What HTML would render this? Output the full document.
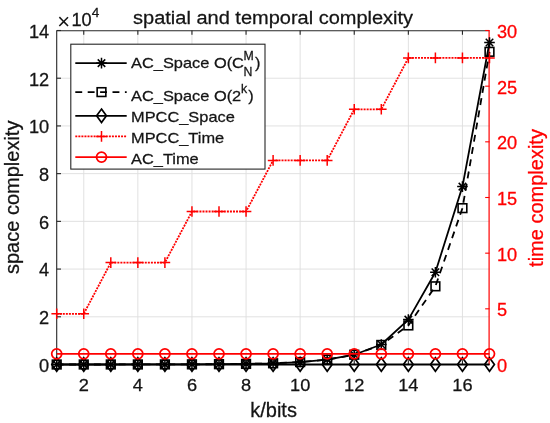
<!DOCTYPE html>
<html><head><meta charset="utf-8"><title>spatial and temporal complexity</title>
<style>html,body{margin:0;padding:0;background:#fff;width:550px;height:423px;overflow:hidden}svg{display:block}</style>
</head><body>
<svg width="550" height="423" viewBox="0 0 550 423" font-family='"Liberation Sans", Arial, Helvetica, sans-serif'>
<rect width="550" height="423" fill="#fff"/>
<line x1="83.75" y1="30.5" x2="83.75" y2="364.5" stroke="#dedede" stroke-width="0.9"/>
<line x1="137.85" y1="30.5" x2="137.85" y2="364.5" stroke="#dedede" stroke-width="0.9"/>
<line x1="191.95" y1="30.5" x2="191.95" y2="364.5" stroke="#dedede" stroke-width="0.9"/>
<line x1="246.05" y1="30.5" x2="246.05" y2="364.5" stroke="#dedede" stroke-width="0.9"/>
<line x1="300.15" y1="30.5" x2="300.15" y2="364.5" stroke="#dedede" stroke-width="0.9"/>
<line x1="354.25" y1="30.5" x2="354.25" y2="364.5" stroke="#dedede" stroke-width="0.9"/>
<line x1="408.35" y1="30.5" x2="408.35" y2="364.5" stroke="#dedede" stroke-width="0.9"/>
<line x1="462.45" y1="30.5" x2="462.45" y2="364.5" stroke="#dedede" stroke-width="0.9"/>
<line x1="56.7" y1="316.79" x2="489.5" y2="316.79" stroke="#dedede" stroke-width="0.9"/>
<line x1="56.7" y1="269.07" x2="489.5" y2="269.07" stroke="#dedede" stroke-width="0.9"/>
<line x1="56.7" y1="221.36" x2="489.5" y2="221.36" stroke="#dedede" stroke-width="0.9"/>
<line x1="56.7" y1="173.64" x2="489.5" y2="173.64" stroke="#dedede" stroke-width="0.9"/>
<line x1="56.7" y1="125.93" x2="489.5" y2="125.93" stroke="#dedede" stroke-width="0.9"/>
<line x1="56.7" y1="78.21" x2="489.5" y2="78.21" stroke="#dedede" stroke-width="0.9"/>
<line x1="56.7" y1="30.7" x2="489.5" y2="30.7" stroke="#262626" stroke-width="1.1"/>
<line x1="56.7" y1="364.5" x2="489.5" y2="364.5" stroke="#262626" stroke-width="1.1"/>
<line x1="56.7" y1="30.5" x2="56.7" y2="364.5" stroke="#262626" stroke-width="1.1"/>
<line x1="489.1" y1="30.5" x2="489.1" y2="364.5" stroke="#ff0000" stroke-width="1.2"/>
<line x1="83.75" y1="364.5" x2="83.75" y2="360.17" stroke="#262626" stroke-width="1.1"/>
<line x1="83.75" y1="30.5" x2="83.75" y2="34.83" stroke="#262626" stroke-width="1.1"/>
<line x1="137.85" y1="364.5" x2="137.85" y2="360.17" stroke="#262626" stroke-width="1.1"/>
<line x1="137.85" y1="30.5" x2="137.85" y2="34.83" stroke="#262626" stroke-width="1.1"/>
<line x1="191.95" y1="364.5" x2="191.95" y2="360.17" stroke="#262626" stroke-width="1.1"/>
<line x1="191.95" y1="30.5" x2="191.95" y2="34.83" stroke="#262626" stroke-width="1.1"/>
<line x1="246.05" y1="364.5" x2="246.05" y2="360.17" stroke="#262626" stroke-width="1.1"/>
<line x1="246.05" y1="30.5" x2="246.05" y2="34.83" stroke="#262626" stroke-width="1.1"/>
<line x1="300.15" y1="364.5" x2="300.15" y2="360.17" stroke="#262626" stroke-width="1.1"/>
<line x1="300.15" y1="30.5" x2="300.15" y2="34.83" stroke="#262626" stroke-width="1.1"/>
<line x1="354.25" y1="364.5" x2="354.25" y2="360.17" stroke="#262626" stroke-width="1.1"/>
<line x1="354.25" y1="30.5" x2="354.25" y2="34.83" stroke="#262626" stroke-width="1.1"/>
<line x1="408.35" y1="364.5" x2="408.35" y2="360.17" stroke="#262626" stroke-width="1.1"/>
<line x1="408.35" y1="30.5" x2="408.35" y2="34.83" stroke="#262626" stroke-width="1.1"/>
<line x1="462.45" y1="364.5" x2="462.45" y2="360.17" stroke="#262626" stroke-width="1.1"/>
<line x1="462.45" y1="30.5" x2="462.45" y2="34.83" stroke="#262626" stroke-width="1.1"/>
<line x1="56.7" y1="364.50" x2="61.03" y2="364.50" stroke="#262626" stroke-width="1.1"/>
<line x1="56.7" y1="316.79" x2="61.03" y2="316.79" stroke="#262626" stroke-width="1.1"/>
<line x1="56.7" y1="269.07" x2="61.03" y2="269.07" stroke="#262626" stroke-width="1.1"/>
<line x1="56.7" y1="221.36" x2="61.03" y2="221.36" stroke="#262626" stroke-width="1.1"/>
<line x1="56.7" y1="173.64" x2="61.03" y2="173.64" stroke="#262626" stroke-width="1.1"/>
<line x1="56.7" y1="125.93" x2="61.03" y2="125.93" stroke="#262626" stroke-width="1.1"/>
<line x1="56.7" y1="78.21" x2="61.03" y2="78.21" stroke="#262626" stroke-width="1.1"/>
<line x1="56.7" y1="30.50" x2="61.03" y2="30.50" stroke="#262626" stroke-width="1.1"/>
<line x1="489.5" y1="364.50" x2="485.17" y2="364.50" stroke="#ff0000" stroke-width="1.1"/>
<line x1="489.5" y1="308.83" x2="485.17" y2="308.83" stroke="#ff0000" stroke-width="1.1"/>
<line x1="489.5" y1="253.17" x2="485.17" y2="253.17" stroke="#ff0000" stroke-width="1.1"/>
<line x1="489.5" y1="197.50" x2="485.17" y2="197.50" stroke="#ff0000" stroke-width="1.1"/>
<line x1="489.5" y1="141.83" x2="485.17" y2="141.83" stroke="#ff0000" stroke-width="1.1"/>
<line x1="489.5" y1="86.17" x2="485.17" y2="86.17" stroke="#ff0000" stroke-width="1.1"/>
<line x1="489.5" y1="30.50" x2="485.17" y2="30.50" stroke="#ff0000" stroke-width="1.1"/>
<polyline points="56.70,364.50 83.75,364.49 110.80,364.48 137.85,364.46 164.90,364.42 191.95,364.35 219.00,364.19 246.05,363.89 273.10,363.28 300.15,362.06 327.20,359.61 354.25,354.73 381.30,344.50 408.35,319.60 435.40,272.20 462.45,186.60 489.50,42.50" fill="none" stroke="#000" stroke-width="1.8" stroke-linejoin="round"/>
<path d="M51.40,364.50H62.00M56.70,359.20V369.80M52.95,360.75L60.45,368.24M52.95,368.24L60.45,360.75" stroke="#000" stroke-width="1.5" fill="none"/>
<path d="M78.45,364.49H89.05M83.75,359.19V369.79M80.00,360.74L87.50,368.24M80.00,368.24L87.50,360.74" stroke="#000" stroke-width="1.5" fill="none"/>
<path d="M105.50,364.48H116.10M110.80,359.18V369.78M107.05,360.73L114.55,368.23M107.05,368.23L114.55,360.73" stroke="#000" stroke-width="1.5" fill="none"/>
<path d="M132.55,364.46H143.15M137.85,359.16V369.76M134.10,360.71L141.60,368.21M134.10,368.21L141.60,360.71" stroke="#000" stroke-width="1.5" fill="none"/>
<path d="M159.60,364.42H170.20M164.90,359.12V369.72M161.15,360.68L168.65,368.17M161.15,368.17L168.65,360.68" stroke="#000" stroke-width="1.5" fill="none"/>
<path d="M186.65,364.35H197.25M191.95,359.05V369.65M188.20,360.60L195.70,368.09M188.20,368.09L195.70,360.60" stroke="#000" stroke-width="1.5" fill="none"/>
<path d="M213.70,364.19H224.30M219.00,358.89V369.49M215.25,360.45L222.75,367.94M215.25,367.94L222.75,360.45" stroke="#000" stroke-width="1.5" fill="none"/>
<path d="M240.75,363.89H251.35M246.05,358.59V369.19M242.30,360.14L249.80,367.64M242.30,367.64L249.80,360.14" stroke="#000" stroke-width="1.5" fill="none"/>
<path d="M267.80,363.28H278.40M273.10,357.98V368.58M269.35,359.53L276.85,367.03M269.35,367.03L276.85,359.53" stroke="#000" stroke-width="1.5" fill="none"/>
<path d="M294.85,362.06H305.45M300.15,356.76V367.36M296.40,358.31L303.90,365.80M296.40,365.80L303.90,358.31" stroke="#000" stroke-width="1.5" fill="none"/>
<path d="M321.90,359.61H332.50M327.20,354.31V364.91M323.45,355.87L330.95,363.36M323.45,363.36L330.95,355.87" stroke="#000" stroke-width="1.5" fill="none"/>
<path d="M348.95,354.73H359.55M354.25,349.43V360.03M350.50,350.98L358.00,358.48M350.50,358.48L358.00,350.98" stroke="#000" stroke-width="1.5" fill="none"/>
<path d="M376.00,344.50H386.60M381.30,339.20V349.80M377.55,340.75L385.05,348.25M377.55,348.25L385.05,340.75" stroke="#000" stroke-width="1.5" fill="none"/>
<path d="M403.05,319.60H413.65M408.35,314.30V324.90M404.60,315.85L412.10,323.35M404.60,323.35L412.10,315.85" stroke="#000" stroke-width="1.5" fill="none"/>
<path d="M430.10,272.20H440.70M435.40,266.90V277.50M431.65,268.45L439.15,275.95M431.65,275.95L439.15,268.45" stroke="#000" stroke-width="1.5" fill="none"/>
<path d="M457.15,186.60H467.75M462.45,181.30V191.90M458.70,182.85L466.20,190.35M458.70,190.35L466.20,182.85" stroke="#000" stroke-width="1.5" fill="none"/>
<path d="M484.20,42.50H494.80M489.50,37.20V47.80M485.75,38.75L493.25,46.25M485.75,46.25L493.25,38.75" stroke="#000" stroke-width="1.5" fill="none"/>
<polyline points="56.70,364.50 83.75,364.49 110.80,364.48 137.85,364.46 164.90,364.42 191.95,364.35 219.00,364.19 246.05,363.89 273.10,363.28 300.15,362.06 327.20,359.61 354.25,354.73 381.30,344.96 408.35,325.41 435.40,286.32 462.45,208.15 489.50,51.80" fill="none" stroke="#000" stroke-width="1.8" stroke-dasharray="6.9 5.5" stroke-linejoin="round"/>
<rect x="52.35" y="360.15" width="8.70" height="8.70" fill="none" stroke="#000" stroke-width="1.6"/>
<rect x="79.40" y="360.14" width="8.70" height="8.70" fill="none" stroke="#000" stroke-width="1.6"/>
<rect x="106.45" y="360.13" width="8.70" height="8.70" fill="none" stroke="#000" stroke-width="1.6"/>
<rect x="133.50" y="360.11" width="8.70" height="8.70" fill="none" stroke="#000" stroke-width="1.6"/>
<rect x="160.55" y="360.07" width="8.70" height="8.70" fill="none" stroke="#000" stroke-width="1.6"/>
<rect x="187.60" y="360.00" width="8.70" height="8.70" fill="none" stroke="#000" stroke-width="1.6"/>
<rect x="214.65" y="359.84" width="8.70" height="8.70" fill="none" stroke="#000" stroke-width="1.6"/>
<rect x="241.70" y="359.54" width="8.70" height="8.70" fill="none" stroke="#000" stroke-width="1.6"/>
<rect x="268.75" y="358.93" width="8.70" height="8.70" fill="none" stroke="#000" stroke-width="1.6"/>
<rect x="295.80" y="357.71" width="8.70" height="8.70" fill="none" stroke="#000" stroke-width="1.6"/>
<rect x="322.85" y="355.26" width="8.70" height="8.70" fill="none" stroke="#000" stroke-width="1.6"/>
<rect x="349.90" y="350.38" width="8.70" height="8.70" fill="none" stroke="#000" stroke-width="1.6"/>
<rect x="376.95" y="340.61" width="8.70" height="8.70" fill="none" stroke="#000" stroke-width="1.6"/>
<rect x="404.00" y="321.06" width="8.70" height="8.70" fill="none" stroke="#000" stroke-width="1.6"/>
<rect x="431.05" y="281.97" width="8.70" height="8.70" fill="none" stroke="#000" stroke-width="1.6"/>
<rect x="458.10" y="203.80" width="8.70" height="8.70" fill="none" stroke="#000" stroke-width="1.6"/>
<rect x="485.15" y="47.45" width="8.70" height="8.70" fill="none" stroke="#000" stroke-width="1.6"/>
<polyline points="56.70,364.50 83.75,364.50 110.80,364.50 137.85,364.50 164.90,364.50 191.95,364.50 219.00,364.50 246.05,364.50 273.10,364.50 300.15,364.50 327.20,364.50 354.25,364.50 381.30,364.50 408.35,364.50 435.40,364.50 462.45,364.50 489.50,364.50" fill="none" stroke="#000" stroke-width="1.8" stroke-linejoin="round"/>
<path d="M56.70,357.80L61.60,364.50L56.70,371.20L51.80,364.50Z" fill="none" stroke="#000" stroke-width="1.7"/>
<path d="M83.75,357.80L88.65,364.50L83.75,371.20L78.85,364.50Z" fill="none" stroke="#000" stroke-width="1.7"/>
<path d="M110.80,357.80L115.70,364.50L110.80,371.20L105.90,364.50Z" fill="none" stroke="#000" stroke-width="1.7"/>
<path d="M137.85,357.80L142.75,364.50L137.85,371.20L132.95,364.50Z" fill="none" stroke="#000" stroke-width="1.7"/>
<path d="M164.90,357.80L169.80,364.50L164.90,371.20L160.00,364.50Z" fill="none" stroke="#000" stroke-width="1.7"/>
<path d="M191.95,357.80L196.85,364.50L191.95,371.20L187.05,364.50Z" fill="none" stroke="#000" stroke-width="1.7"/>
<path d="M219.00,357.80L223.90,364.50L219.00,371.20L214.10,364.50Z" fill="none" stroke="#000" stroke-width="1.7"/>
<path d="M246.05,357.80L250.95,364.50L246.05,371.20L241.15,364.50Z" fill="none" stroke="#000" stroke-width="1.7"/>
<path d="M273.10,357.80L278.00,364.50L273.10,371.20L268.20,364.50Z" fill="none" stroke="#000" stroke-width="1.7"/>
<path d="M300.15,357.80L305.05,364.50L300.15,371.20L295.25,364.50Z" fill="none" stroke="#000" stroke-width="1.7"/>
<path d="M327.20,357.80L332.10,364.50L327.20,371.20L322.30,364.50Z" fill="none" stroke="#000" stroke-width="1.7"/>
<path d="M354.25,357.80L359.15,364.50L354.25,371.20L349.35,364.50Z" fill="none" stroke="#000" stroke-width="1.7"/>
<path d="M381.30,357.80L386.20,364.50L381.30,371.20L376.40,364.50Z" fill="none" stroke="#000" stroke-width="1.7"/>
<path d="M408.35,357.80L413.25,364.50L408.35,371.20L403.45,364.50Z" fill="none" stroke="#000" stroke-width="1.7"/>
<path d="M435.40,357.80L440.30,364.50L435.40,371.20L430.50,364.50Z" fill="none" stroke="#000" stroke-width="1.7"/>
<path d="M462.45,357.80L467.35,364.50L462.45,371.20L457.55,364.50Z" fill="none" stroke="#000" stroke-width="1.7"/>
<path d="M489.50,357.80L494.40,364.50L489.50,371.20L484.60,364.50Z" fill="none" stroke="#000" stroke-width="1.7"/>
<polyline points="56.70,313.80 83.75,313.80 110.80,262.60 137.85,262.60 164.90,262.60 191.95,211.50 219.00,211.50 246.05,211.50 273.10,160.40 300.15,160.40 327.20,160.40 354.25,109.30 381.30,109.30 408.35,57.90 435.40,57.90 462.45,57.90 489.50,57.90" fill="none" stroke="#ff0000" stroke-width="1.8" stroke-dasharray="2.0 1.05" stroke-linejoin="round"/>
<path d="M51.40,313.80H62.00M56.70,308.50V319.10" stroke="#ff0000" stroke-width="1.5" fill="none"/>
<path d="M78.45,313.80H89.05M83.75,308.50V319.10" stroke="#ff0000" stroke-width="1.5" fill="none"/>
<path d="M105.50,262.60H116.10M110.80,257.30V267.90" stroke="#ff0000" stroke-width="1.5" fill="none"/>
<path d="M132.55,262.60H143.15M137.85,257.30V267.90" stroke="#ff0000" stroke-width="1.5" fill="none"/>
<path d="M159.60,262.60H170.20M164.90,257.30V267.90" stroke="#ff0000" stroke-width="1.5" fill="none"/>
<path d="M186.65,211.50H197.25M191.95,206.20V216.80" stroke="#ff0000" stroke-width="1.5" fill="none"/>
<path d="M213.70,211.50H224.30M219.00,206.20V216.80" stroke="#ff0000" stroke-width="1.5" fill="none"/>
<path d="M240.75,211.50H251.35M246.05,206.20V216.80" stroke="#ff0000" stroke-width="1.5" fill="none"/>
<path d="M267.80,160.40H278.40M273.10,155.10V165.70" stroke="#ff0000" stroke-width="1.5" fill="none"/>
<path d="M294.85,160.40H305.45M300.15,155.10V165.70" stroke="#ff0000" stroke-width="1.5" fill="none"/>
<path d="M321.90,160.40H332.50M327.20,155.10V165.70" stroke="#ff0000" stroke-width="1.5" fill="none"/>
<path d="M348.95,109.30H359.55M354.25,104.00V114.60" stroke="#ff0000" stroke-width="1.5" fill="none"/>
<path d="M376.00,109.30H386.60M381.30,104.00V114.60" stroke="#ff0000" stroke-width="1.5" fill="none"/>
<path d="M403.05,57.90H413.65M408.35,52.60V63.20" stroke="#ff0000" stroke-width="1.5" fill="none"/>
<path d="M430.10,57.90H440.70M435.40,52.60V63.20" stroke="#ff0000" stroke-width="1.5" fill="none"/>
<path d="M457.15,57.90H467.75M462.45,52.60V63.20" stroke="#ff0000" stroke-width="1.5" fill="none"/>
<path d="M484.20,57.90H494.80M489.50,52.60V63.20" stroke="#ff0000" stroke-width="1.5" fill="none"/>
<polyline points="56.70,353.80 83.75,353.80 110.80,353.80 137.85,353.80 164.90,353.80 191.95,353.80 219.00,353.80 246.05,353.80 273.10,353.80 300.15,353.80 327.20,353.80 354.25,353.80 381.30,353.80 408.35,353.80 435.40,353.80 462.45,353.80 489.50,353.80" fill="none" stroke="#ff0000" stroke-width="1.8" stroke-linejoin="round"/>
<circle cx="56.70" cy="353.80" r="5.0" fill="none" stroke="#ff0000" stroke-width="1.75"/>
<circle cx="83.75" cy="353.80" r="5.0" fill="none" stroke="#ff0000" stroke-width="1.75"/>
<circle cx="110.80" cy="353.80" r="5.0" fill="none" stroke="#ff0000" stroke-width="1.75"/>
<circle cx="137.85" cy="353.80" r="5.0" fill="none" stroke="#ff0000" stroke-width="1.75"/>
<circle cx="164.90" cy="353.80" r="5.0" fill="none" stroke="#ff0000" stroke-width="1.75"/>
<circle cx="191.95" cy="353.80" r="5.0" fill="none" stroke="#ff0000" stroke-width="1.75"/>
<circle cx="219.00" cy="353.80" r="5.0" fill="none" stroke="#ff0000" stroke-width="1.75"/>
<circle cx="246.05" cy="353.80" r="5.0" fill="none" stroke="#ff0000" stroke-width="1.75"/>
<circle cx="273.10" cy="353.80" r="5.0" fill="none" stroke="#ff0000" stroke-width="1.75"/>
<circle cx="300.15" cy="353.80" r="5.0" fill="none" stroke="#ff0000" stroke-width="1.75"/>
<circle cx="327.20" cy="353.80" r="5.0" fill="none" stroke="#ff0000" stroke-width="1.75"/>
<circle cx="354.25" cy="353.80" r="5.0" fill="none" stroke="#ff0000" stroke-width="1.75"/>
<circle cx="381.30" cy="353.80" r="5.0" fill="none" stroke="#ff0000" stroke-width="1.75"/>
<circle cx="408.35" cy="353.80" r="5.0" fill="none" stroke="#ff0000" stroke-width="1.75"/>
<circle cx="435.40" cy="353.80" r="5.0" fill="none" stroke="#ff0000" stroke-width="1.75"/>
<circle cx="462.45" cy="353.80" r="5.0" fill="none" stroke="#ff0000" stroke-width="1.75"/>
<circle cx="489.50" cy="353.80" r="5.0" fill="none" stroke="#ff0000" stroke-width="1.75"/>
<g fill="#141414" stroke="#141414" stroke-width="0.28">
<text x="83.75" y="390.6" text-anchor="middle" font-size="18.2" transform="matrix(1,0,0,0.95,0,19.530)">2</text>
<text x="137.85" y="390.6" text-anchor="middle" font-size="18.2" transform="matrix(1,0,0,0.95,0,19.530)">4</text>
<text x="191.95" y="390.6" text-anchor="middle" font-size="18.2" transform="matrix(1,0,0,0.95,0,19.530)">6</text>
<text x="246.05" y="390.6" text-anchor="middle" font-size="18.2" transform="matrix(1,0,0,0.95,0,19.530)">8</text>
<text x="300.15" y="390.6" text-anchor="middle" font-size="18.2" transform="matrix(1,0,0,0.95,0,19.530)">10</text>
<text x="354.25" y="390.6" text-anchor="middle" font-size="18.2" transform="matrix(1,0,0,0.95,0,19.530)">12</text>
<text x="408.35" y="390.6" text-anchor="middle" font-size="18.2" transform="matrix(1,0,0,0.95,0,19.530)">14</text>
<text x="462.45" y="390.6" text-anchor="middle" font-size="18.2" transform="matrix(1,0,0,0.95,0,19.530)">16</text>
<text x="49.2" y="371.90" text-anchor="end" font-size="18.2">0</text>
<text x="49.2" y="324.19" text-anchor="end" font-size="18.2">2</text>
<text x="49.2" y="276.47" text-anchor="end" font-size="18.2">4</text>
<text x="49.2" y="228.76" text-anchor="end" font-size="18.2">6</text>
<text x="49.2" y="181.04" text-anchor="end" font-size="18.2">8</text>
<text x="49.2" y="133.33" text-anchor="end" font-size="18.2">10</text>
<text x="49.2" y="85.61" text-anchor="end" font-size="18.2">12</text>
<text x="49.2" y="37.90" text-anchor="end" font-size="18.2">14</text>
<text x="496.9" y="372.10" font-size="18.2" fill="#ff0000" stroke="#ff0000">0</text>
<text x="496.9" y="316.43" font-size="18.2" fill="#ff0000" stroke="#ff0000">5</text>
<text x="496.9" y="260.77" font-size="18.2" fill="#ff0000" stroke="#ff0000">10</text>
<text x="496.9" y="205.10" font-size="18.2" fill="#ff0000" stroke="#ff0000">15</text>
<text x="496.9" y="149.43" font-size="18.2" fill="#ff0000" stroke="#ff0000">20</text>
<text x="496.9" y="93.77" font-size="18.2" fill="#ff0000" stroke="#ff0000">25</text>
<text x="496.9" y="38.10" font-size="18.2" fill="#ff0000" stroke="#ff0000">30</text>
<text x="57.3" y="29.1" font-size="22" stroke-width="0">×</text>
<text x="71.4" y="26.4" font-size="18.2">10<tspan font-size="13.6" dy="-9.1">4</tspan></text>
<g transform="matrix(1,0,0,0.95,0,1.180)"><text x="273.1" y="23.6" text-anchor="middle" font-size="20">spatial and temporal complexity</text></g>
<text x="273.6" y="416.9" text-anchor="middle" font-size="20">k/bits</text>
<text transform="translate(19.3,197.3) rotate(-90)" text-anchor="middle" font-size="20">space complexity</text>
<text transform="translate(542.7,198) rotate(-90)" text-anchor="middle" font-size="20" fill="#ff0000" stroke="#ff0000">time complexity</text>
</g>
<g fill="#141414" stroke="#141414" stroke-width="0.28">
<rect x="70.8" y="44.2" width="194.20" height="124.90" fill="#fff" stroke="#262626" stroke-width="1.1"/>
<polyline points="75.30,63.10 126.70,63.10" fill="none" stroke="#000" stroke-width="1.8" stroke-linejoin="round"/>
<path d="M96.20,63.10H106.80M101.50,57.80V68.40M97.75,59.35L105.25,66.85M97.75,66.85L105.25,59.35" stroke="#000" stroke-width="1.5" fill="none"/>
<polyline points="75.30,92.10 126.70,92.10" fill="none" stroke="#000" stroke-width="1.8" stroke-dasharray="6.9 5.5" stroke-linejoin="round"/>
<rect x="97.15" y="87.75" width="8.70" height="8.70" fill="none" stroke="#000" stroke-width="1.6"/>
<polyline points="75.30,115.80 126.70,115.80" fill="none" stroke="#000" stroke-width="1.8" stroke-linejoin="round"/>
<path d="M101.50,109.10L106.40,115.80L101.50,122.50L96.60,115.80Z" fill="none" stroke="#000" stroke-width="1.7"/>
<polyline points="75.30,136.40 126.70,136.40" fill="none" stroke="#ff0000" stroke-width="1.8" stroke-dasharray="2.0 1.05" stroke-linejoin="round"/>
<path d="M96.20,136.40H106.80M101.50,131.10V141.70" stroke="#ff0000" stroke-width="1.5" fill="none"/>
<polyline points="75.30,157.10 126.70,157.10" fill="none" stroke="#ff0000" stroke-width="1.8" stroke-linejoin="round"/>
<circle cx="101.50" cy="157.10" r="5.0" fill="none" stroke="#ff0000" stroke-width="1.75"/>
<g transform="matrix(1,0,0,0.94,0,4.098)"><text x="131.0" y="68.3" font-size="16.4">AC_Space O(C</text><text x="254.9" y="68.3" font-size="16.4">)</text></g>
<text x="243.6" y="59.9" font-size="12.3">M</text><text x="243.6" y="75.5" font-size="12.3">N</text>
<g transform="matrix(1,0,0,0.94,0,6.042)"><text x="131.0" y="100.7" font-size="16.4">AC_Space O(2</text><text x="248.2" y="100.7" font-size="16.4">)</text></g>
<text x="241.1" y="93.2" font-size="12.3">k</text>
<g transform="matrix(1,0,0,0.94,0,7.320)"><text x="131.0" y="122.0" font-size="16.4">MPCC_Space</text></g>
<g transform="matrix(1,0,0,0.94,0,8.598)"><text x="131.0" y="143.3" font-size="16.4">MPCC_Time</text></g>
<g transform="matrix(1,0,0,0.94,0,9.870)"><text x="131.0" y="164.5" font-size="16.4">AC_Time</text></g>
</g>
</svg>
</body></html>
